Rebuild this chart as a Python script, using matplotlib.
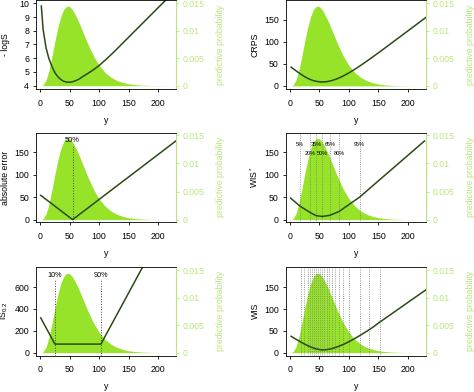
import matplotlib
matplotlib.use('Agg')
import matplotlib.pyplot as plt

plt.rcParams['font.family'] = ['Liberation Sans', 'DejaVu Sans']
plt.rcParams['mathtext.default'] = 'regular'

# predictive distribution
y_grid = [2, 5, 10, 15, 20, 25, 30, 35, 40, 45, 50, 55, 60, 65, 70, 80, 90, 100,
          110, 120, 130, 140, 150, 160, 170, 180, 190, 200, 210, 220, 230]
density = [0.00003, 0.00012, 0.0010, 0.0028, 0.0053, 0.0081, 0.0106, 0.0126, 0.0139,
           0.0145, 0.0144, 0.0138, 0.0128, 0.0117, 0.0104, 0.0078, 0.0055, 0.0037,
           0.0024, 0.00154, 0.00095, 0.00058, 0.00034, 0.0002, 0.00011, 0.00006,
           0.00003, 0.00002, 0.00001, 0.000005, 0.000002]

# scores on the same grid
neg_log_s = [9.8, 8.1, 6.75, 5.95, 5.4, 4.95, 4.65, 4.45, 4.32, 4.26, 4.25, 4.29, 4.36,
             4.46, 4.6, 4.87, 5.15, 5.47, 5.85, 6.25, 6.67, 7.1, 7.53, 7.96, 8.39, 8.82,
             9.25, 9.68, 10.11, 10.54, 10.97]
crps = [42.5, 39.5, 34.5, 29.8, 25.2, 21, 17.3, 14.3, 11.9, 10.3, 9.3, 9.0, 9.3, 10.3,
        11.7, 16.2, 22.3, 29.6, 37.8, 46.6, 55.9, 65.4, 75.1, 85, 95, 105, 115, 125,
        135, 145, 155]
wis_many = [37.5, 35, 31, 27, 23, 19.5, 16, 13, 10.5, 8.5, 7, 6.3, 6.5, 7.4, 8.8, 13,
            18.5, 25, 32.5, 40.5, 49, 57.8, 68, 77.5, 87, 96.5, 106, 115.5, 125, 134.5, 144]

# absolute error
ae_y = [1, 55, 230]
ae_vals = [54, 0, 175]
median_q = 55

# WIS* with three central intervals
wis3_y = [1, 17, 34, 44, 54.5, 67.5, 83, 118, 228]
wis3_vals = [48, 30, 16, 9, 7, 9.5, 18, 50, 175]
wis3_q = [17, 34, 44, 54.5, 67.5, 83, 118]
wis3_labels = ['5%', '20%', '35%', '50%', '65%', '80%', '95%']

# interval score, 80% interval
is_y = [1, 25, 103, 230]
is_vals = [318, 78, 78, 1348]
is_q = [25, 103]
is_labels = ['10%', '90%']

# quantiles used for the WIS panel
wis_q = [18.5, 24, 30, 34, 38, 41.5, 44.5, 48, 51, 54.5, 58, 62, 66.5, 71, 76.5, 83,
         90, 100.5, 118, 134, 153]

FILL = '#97e32a'
PALE = '#b8e67c'
LINE = '#2b4a14'
FS = 6.3

fig = plt.figure(figsize=(4.74, 3.92), dpi=100)


def panel(pos, xs, ys, ylabel, ylim, yticks, rlim):
    ax = fig.add_axes(pos)
    ax2 = ax.twinx()
    ax2.fill_between(y_grid, density, 0, color=FILL, lw=0)
    ax.set_zorder(ax2.get_zorder() + 1)
    ax.patch.set_visible(False)
    ax.plot(xs, ys, color=LINE, lw=1.1)

    ax.set_xlim(-7, 230)
    ax.set_ylim(*ylim)
    ax2.set_ylim(*rlim)
    ax.set_xticks([0, 50, 100, 150, 200])
    ax.set_yticks(yticks)
    ax.tick_params(labelsize=FS, length=2.5, width=0.6, pad=2.5)
    ax.tick_params(axis='x', pad=4.5)
    for s in ['left', 'top', 'bottom']:
        ax.spines[s].set_linewidth(0.6)
    ax.spines['right'].set_visible(False)

    ax2.set_yticks([0, 0.005, 0.01, 0.015])
    ax2.set_yticklabels(['0', '0.005', '0.01', '0.015'])
    ax2.tick_params(labelsize=FS, length=2.5, width=0.6, pad=2.5,
                    color=PALE, labelcolor=PALE)
    for s in ['left', 'top', 'bottom']:
        ax2.spines[s].set_visible(False)
    ax2.spines['right'].set_color(PALE)
    ax2.spines['right'].set_linewidth(0.8)

    ax.set_ylabel(ylabel, fontsize=FS)
    ax.yaxis.set_label_coords(-0.185, 0.5)
    ax.text(0.5, -0.35, 'y', transform=ax.transAxes, ha='center', va='center',
            fontsize=FS)
    ax.text(1.32, 0.5, 'predictive probability', transform=ax.transAxes,
            rotation=90, ha='center', va='center', fontsize=FS, color=PALE)
    return ax


c1, c2 = 0.076, 0.603
w, h = 0.295, 0.227
r1, r2, r3 = 0.773, 0.434, 0.093

panel([c1, r1, w, h], y_grid, neg_log_s, '- logS', (3.76, 10.24),
      [4, 5, 6, 7, 8, 9, 10], (-0.0006, 0.0156))

panel([c2, r1, w, h], y_grid, crps, 'CRPS', (-7, 195),
      [0, 50, 100, 150], (-0.00056, 0.0156))

ax = panel([c1, r2, w, h], ae_y, ae_vals, 'absolute error', (-5, 193),
           [0, 50, 100, 150], (-0.0004, 0.01545))
ax.axvline(median_q, ymax=0.86, color='#444444', ls=':', lw=0.7, zorder=1)
ax.text(median_q, 0.91, '50%', transform=ax.get_xaxis_transform(),
        ha='center', va='center', fontsize=5.4)

ax = panel([c2, r2, w, h], wis3_y, wis3_vals, 'WIS$^*$', (-5, 193),
           [0, 50, 100, 150], (-0.0004, 0.01545))
for i, (q, lab) in enumerate(zip(wis3_q, wis3_labels)):
    ax.axvline(q, color='#777777', ls=':', lw=0.6, zorder=1)
    ax.text(q, 0.875 if i % 2 == 0 else 0.77, lab,
            transform=ax.get_xaxis_transform(), ha='center', va='center',
            fontsize=4)

ax = panel([c1, r3, w, h], is_y, is_vals, 'IS$_{0.2}$', (-27, 789),
           [0, 200, 400, 600], (-0.00054, 0.0157))
for q, lab in zip(is_q, is_labels):
    ax.axvline(q, ymax=0.86, color='#444444', ls=':', lw=0.7, zorder=1)
    ax.text(q, 0.9, lab, transform=ax.get_xaxis_transform(),
            ha='center', va='center', fontsize=5.2)

ax = panel([c2, r3, w, h], y_grid, wis_many, 'WIS', (-6.8, 198),
           [0, 50, 100, 150], (-0.00054, 0.0157))
for q in wis_q:
    ax.axvline(q, color='#777777', ls=':', lw=0.6, zorder=1)

fig.savefig('out.png', dpi=100)
